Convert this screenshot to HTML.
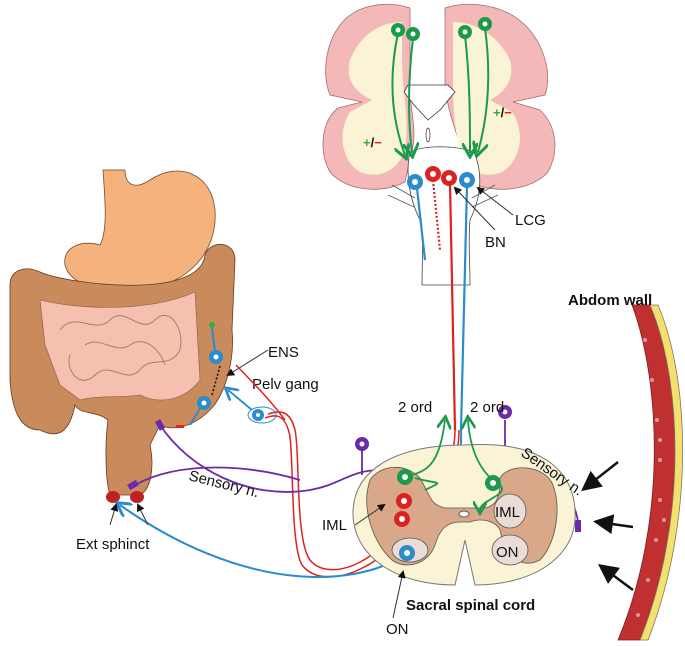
<!DOCTYPE html>
<html><head><meta charset="utf-8"><style>
html,body{margin:0;padding:0;background:#fff;}
svg{display:block;}
text{font-family:"Liberation Sans",sans-serif;fill:#111;}
</style></head><body>
<svg width="685" height="646" viewBox="0 0 685 646" xmlns="http://www.w3.org/2000/svg">
<defs>
<marker id="ak" markerWidth="8" markerHeight="8" refX="6" refY="4" orient="auto"><path d="M0,0 L8,4 L0,8 z" fill="#111"/></marker>
<marker id="ag" markerWidth="8" markerHeight="8" refX="5" refY="4" orient="auto"><path d="M0,0 L7,4 L0,8" fill="none" stroke="#1a9a4a" stroke-width="1.5"/></marker>
<marker id="ab" markerWidth="8" markerHeight="8" refX="5" refY="4" orient="auto"><path d="M0,0 L7,4 L0,8" fill="none" stroke="#2a8ccc" stroke-width="1.5"/></marker>
</defs>

<!-- Brain left hemisphere -->
<path d="M410,8 C385,0 355,5 340,25 C325,45 322,75 330,95 L362,102 L338,108 C322,120 318,150 330,172 C345,190 380,195 405,182 L412,150 C418,130 408,100 410,85 Z" fill="#f4b8b8" stroke="#a07070" stroke-width="0.8"/>
<path d="M402,22 C380,22 360,35 350,60 C345,80 355,92 372,100 L350,112 C338,130 340,160 360,172 C380,180 398,170 405,150 C410,120 402,90 402,60 Z" fill="#fbf3d6"/>
<!-- Right hemisphere -->
<path d="M445,8 C470,0 505,5 525,25 C545,45 552,75 545,95 L513,102 L540,110 C556,125 560,150 548,172 C532,190 495,195 470,182 L462,150 C455,130 445,100 445,85 Z" fill="#f4b8b8" stroke="#a07070" stroke-width="0.8"/>
<path d="M453,22 C475,22 498,35 510,60 C515,80 505,92 490,100 L512,112 C525,130 522,160 502,172 C482,180 465,170 460,150 C452,120 453,90 453,60 Z" fill="#fbf3d6"/>
<path d="M408,85 L448,85 L455,92 L440,110 L428,120 L414,105 L404,92 Z" fill="#fff" stroke="#333" stroke-width="0.8"/>
<ellipse cx="428" cy="135" rx="2" ry="7" fill="#fff" stroke="#333" stroke-width="0.7"/>
<!-- Brainstem -->
<path d="M410,152 C425,145 455,145 474,152 C484,175 480,200 470,220 C468,240 470,260 470,285 L422,285 C422,260 424,240 420,220 C410,200 405,175 410,152 Z" fill="#fff" stroke="#444" stroke-width="0.8"/>
<path d="M392,185 L415,198 M388,195 L414,207 M495,185 L472,198 M498,195 L472,207" stroke="#555" stroke-width="0.8"/>
<!-- green cortical neurons -->
<g stroke="#1a9a4a" stroke-width="2" fill="none">
<path d="M398,33 C388,80 392,120 405,155" marker-end="url(#ag)"/>
<path d="M413,38 C408,80 408,120 412,153" marker-end="url(#ag)"/>
<path d="M465,35 C470,80 470,120 470,153" marker-end="url(#ag)"/>
<path d="M485,28 C492,80 487,120 478,152" marker-end="url(#ag)"/>
</g>
<g fill="#1a9a4a"><circle cx="398" cy="30" r="7"/><circle cx="413" cy="34" r="7"/><circle cx="465" cy="32" r="7"/><circle cx="485" cy="24" r="7"/></g>
<g fill="#fff"><circle cx="398" cy="30" r="2.5"/><circle cx="413" cy="34" r="2.5"/><circle cx="465" cy="32" r="2.5"/><circle cx="485" cy="24" r="2.5"/></g>
<text x="363" y="147" font-size="13" font-weight="bold"><tspan fill="#3aaa3a">+</tspan><tspan>/</tspan><tspan fill="#d22">−</tspan></text>
<text x="493" y="117" font-size="13" font-weight="bold"><tspan fill="#3aaa3a">+</tspan><tspan>/</tspan><tspan fill="#d22">−</tspan></text>
<!-- brainstem neurons -->
<g stroke-width="2.2" fill="none">
<path d="M417,188 L425,260" stroke="#2a8ccc"/>
<path d="M433,180 L440,250" stroke="#d22" stroke-dasharray="2,2"/>
<path d="M450,183 L455,430" stroke="#d22"/>
<path d="M467,185 L461,430" stroke="#2a8ccc"/>
</g>
<g><circle cx="415" cy="182" r="8" fill="#2a8ccc"/><circle cx="433" cy="174" r="8" fill="#d22"/><circle cx="449" cy="178" r="8" fill="#d22"/><circle cx="467" cy="180" r="8" fill="#2a8ccc"/></g>
<g fill="#fff"><circle cx="415" cy="182" r="3"/><circle cx="433" cy="174" r="3"/><circle cx="449" cy="178" r="3"/><circle cx="467" cy="180" r="3"/></g>
<line x1="495" y1="230" x2="455" y2="188" stroke="#333" stroke-width="1" marker-end="url(#ak)"/>
<line x1="513" y1="215" x2="478" y2="188" stroke="#333" stroke-width="1" marker-end="url(#ak)"/>
<text x="485" y="247" font-size="15">BN</text>
<text x="515" y="225" font-size="15">LCG</text>

<!-- Stomach -->
<path d="M103,170 L125,170 C125,185 135,190 150,180 C180,160 212,175 215,210 C218,250 190,285 140,290 C100,293 70,285 65,265 C62,245 85,240 100,245 C108,230 105,200 103,170 Z" fill="#f5b27c" stroke="#7a4a2a" stroke-width="0.8"/>
<!-- Colon -->
<path d="M10,285 C10,270 25,265 40,272 C70,285 200,300 205,255 C210,240 235,240 235,260 L232,330 C235,360 225,395 210,410 C190,430 170,430 160,425 L150,445 C155,470 150,490 140,495 L110,495 C105,480 105,440 108,420 C95,410 80,415 75,405 C70,430 60,440 40,430 C20,430 12,410 10,380 Z" fill="#c98a5c" stroke="#6a3a1a" stroke-width="0.8"/>
<path d="M40,300 C80,310 150,312 195,292 L200,380 C185,400 160,405 140,395 C120,398 100,395 80,400 L60,385 L45,345 Z" fill="#f6c0b0" stroke="#8a5a4a" stroke-width="0.6"/>
<g fill="none" stroke="#b07a6a" stroke-width="1">
<path d="M60,330 C75,310 95,335 110,320 C125,305 140,335 155,320 C170,305 185,330 180,350 C170,370 150,355 140,370 C125,385 110,360 95,375 C80,390 65,370 70,355"/>
<path d="M85,345 C100,335 115,355 130,345 C145,335 160,350 165,365"/>
</g>
<g fill="#c02020"><ellipse cx="113" cy="497" rx="7" ry="6"/><ellipse cx="137" cy="497" rx="7" ry="6"/></g>
<g stroke="#2a8ccc" stroke-width="2" fill="none"><path d="M212,328 L215,352"/><path d="M202,405 L190,425"/></g>
<circle cx="212" cy="325" r="3" fill="#3aaa3a"/>
<circle cx="216" cy="357" r="7" fill="#2a8ccc"/><circle cx="216" cy="357" r="2.5" fill="#fff"/>
<circle cx="204" cy="403" r="7" fill="#2a8ccc"/><circle cx="204" cy="403" r="2.5" fill="#fff"/>
<line x1="220" y1="366" x2="212" y2="395" stroke="#111" stroke-dasharray="2,2" stroke-width="1.5"/>
<rect x="176" y="425" width="8" height="3" fill="#d22"/>
<rect x="157" y="420" width="6" height="10" fill="#6a2aaa" transform="rotate(-30 160 425)"/>
<rect x="130" y="480" width="6" height="10" fill="#6a2aaa" transform="rotate(60 133 485)"/>
<line x1="268" y1="350" x2="228" y2="375" stroke="#333" stroke-width="1" marker-end="url(#ak)"/>
<text x="268" y="357" font-size="15">ENS</text>
<text x="252" y="389" font-size="15">Pelv gang</text>
<ellipse cx="262" cy="415" rx="14" ry="8" fill="#fff" stroke="#2a8ccc" stroke-width="1"/>
<circle cx="258" cy="415" r="6" fill="#2a8ccc"/><circle cx="258" cy="415" r="2" fill="#fff"/>
<line x1="252" y1="410" x2="228" y2="390" stroke="#2a8ccc" stroke-width="1.8" marker-end="url(#ab)"/>

<g fill="none" stroke="#d22" stroke-width="1.5">
<path d="M410,502 C390,560 330,585 310,560 C295,540 300,450 295,430 C290,410 280,410 268,414"/>
<path d="M415,510 C395,565 325,595 302,565 C290,545 294,450 289,432 C284,414 276,414 265,418"/>
<path d="M455,430 C455,470 430,490 412,500"/>
<path d="M459,430 C459,475 435,495 416,508"/>
<path d="M236,365 C260,390 270,400 285,420" />
</g>
<g fill="none" stroke="#2a8ccc" stroke-width="2">
<path d="M461,430 C463,480 440,520 410,550"/>
<path d="M405,555 C350,590 240,590 120,505" marker-end="url(#ab)"/>
</g>
<g fill="none" stroke="#6a2aaa" stroke-width="1.8">
<path d="M160,425 C190,470 250,500 310,490 C340,485 350,470 380,470"/>
<path d="M135,485 C180,460 250,465 300,480"/>
<line x1="362" y1="475" x2="362" y2="450"/>
<path d="M578,522 C575,500 565,490 540,470 C520,455 500,450 485,470"/>
<line x1="505" y1="460" x2="505" y2="420"/>
</g>
<circle cx="362" cy="444" r="7" fill="#6a2aaa"/><circle cx="362" cy="444" r="2.5" fill="#fff"/>
<circle cx="505" cy="412" r="7" fill="#6a2aaa"/><circle cx="505" cy="412" r="2.5" fill="#fff"/>
<rect x="575" y="520" width="6" height="12" fill="#6a2aaa"/>
<text x="188" y="480" font-size="15" transform="rotate(14 188 480)">Sensory n.</text>

<!-- Spinal cord -->
<path d="M465,445 C540,440 578,470 575,520 C572,560 530,585 475,585 L465,540 L455,585 C400,585 355,560 353,515 C352,470 395,445 465,445 Z" fill="#fbf3d6" stroke="#777" stroke-width="1"/>
<path d="M370,480 C380,465 405,462 420,478 C430,495 430,505 445,508 L485,508 C500,505 500,490 500,478 C510,462 545,465 553,485 C562,510 555,545 540,560 C520,570 505,555 500,530 C495,520 480,518 470,522 L460,522 C448,522 440,528 435,545 C428,565 405,570 392,560 C375,545 360,510 370,480 Z" fill="#d8a888" stroke="#555" stroke-width="0.8"/>
<ellipse cx="464" cy="514" rx="5" ry="3" fill="#fff" stroke="#555"/>
<ellipse cx="510" cy="511" rx="16" ry="17" fill="#e9dcd6" stroke="#555" stroke-width="0.8"/>
<ellipse cx="510" cy="550" rx="18" ry="15" fill="#e9dcd6" stroke="#555" stroke-width="0.8"/>
<ellipse cx="410" cy="550" rx="18" ry="12" fill="#e9dcd6" stroke="#555" stroke-width="0.8"/>
<text x="495" y="517" font-size="15">IML</text>
<text x="496" y="557" font-size="15">ON</text>
<g fill="none" stroke="#1a9a4a" stroke-width="1.8">
<path d="M415,478 C440,485 445,480 425,490"/>
<path d="M412,475 C430,470 440,460 445,420" marker-end="url(#ag)"/>
<path d="M495,482 C480,470 470,450 468,420" marker-end="url(#ag)"/>
<path d="M500,485 C510,495 480,500 480,510" marker-end="url(#ag)"/>
</g>
<circle cx="405" cy="477" r="8" fill="#1a9a4a"/><circle cx="405" cy="477" r="3" fill="#fff"/>
<circle cx="493" cy="483" r="8" fill="#1a9a4a"/><circle cx="493" cy="483" r="3" fill="#fff"/>
<circle cx="404" cy="501" r="8" fill="#d22"/><circle cx="404" cy="501" r="3" fill="#fff"/>
<circle cx="402" cy="519" r="8" fill="#d22"/><circle cx="402" cy="519" r="3" fill="#fff"/>
<circle cx="407" cy="553" r="8" fill="#2a8ccc"/><circle cx="407" cy="553" r="3" fill="#fff"/>
<text x="398" y="412" font-size="15">2 ord</text>
<text x="470" y="412" font-size="15">2 ord</text>
<text x="322" y="530" font-size="15">IML</text>
<line x1="355" y1="525" x2="384" y2="505" stroke="#333" stroke-width="1" marker-end="url(#ak)"/>
<line x1="393" y1="618" x2="403" y2="572" stroke="#333" stroke-width="1" marker-end="url(#ak)"/>
<text x="386" y="634" font-size="15">ON</text>
<text x="406" y="610" font-size="15" font-weight="bold">Sacral spinal cord</text>
<line x1="110" y1="525" x2="116" y2="505" stroke="#333" stroke-width="1" marker-end="url(#ak)"/>
<line x1="148" y1="525" x2="138" y2="505" stroke="#333" stroke-width="1" marker-end="url(#ak)"/>
<text x="76" y="549" font-size="15">Ext sphinct</text>
<text x="520" y="455" font-size="15" transform="rotate(35 520 455)">Sensory n.</text>

<!-- Abdominal wall -->
<path d="M632,305 C660,380 668,520 618,640 L640,640 C688,520 682,380 650,305 Z" fill="#c03030" stroke="#7a2020" stroke-width="0.8"/>
<path d="M650,305 C682,380 688,520 640,640 L648,640 C695,520 690,380 658,305 Z" fill="#f4e06a" stroke="#777" stroke-width="0.8"/>
<g fill="#f4c0c0" opacity="0.7">
<circle cx="645" cy="340" r="2"/><circle cx="652" cy="380" r="2"/><circle cx="657" cy="420" r="2"/><circle cx="660" cy="460" r="2"/><circle cx="660" cy="500" r="2"/><circle cx="656" cy="540" r="2"/><circle cx="648" cy="580" r="2"/><circle cx="638" cy="615" r="2"/><circle cx="660" cy="440" r="2"/><circle cx="664" cy="520" r="2"/></g>
<text x="568" y="305" font-size="15" font-weight="bold">Abdom wall</text>
<g stroke="#111" stroke-width="2.5">
<line x1="618" y1="462" x2="585" y2="488" marker-end="url(#ak)"/>
<line x1="633" y1="527" x2="598" y2="522" marker-end="url(#ak)"/>
<line x1="633" y1="590" x2="602" y2="567" marker-end="url(#ak)"/>
</g>
</svg>
</body></html>
